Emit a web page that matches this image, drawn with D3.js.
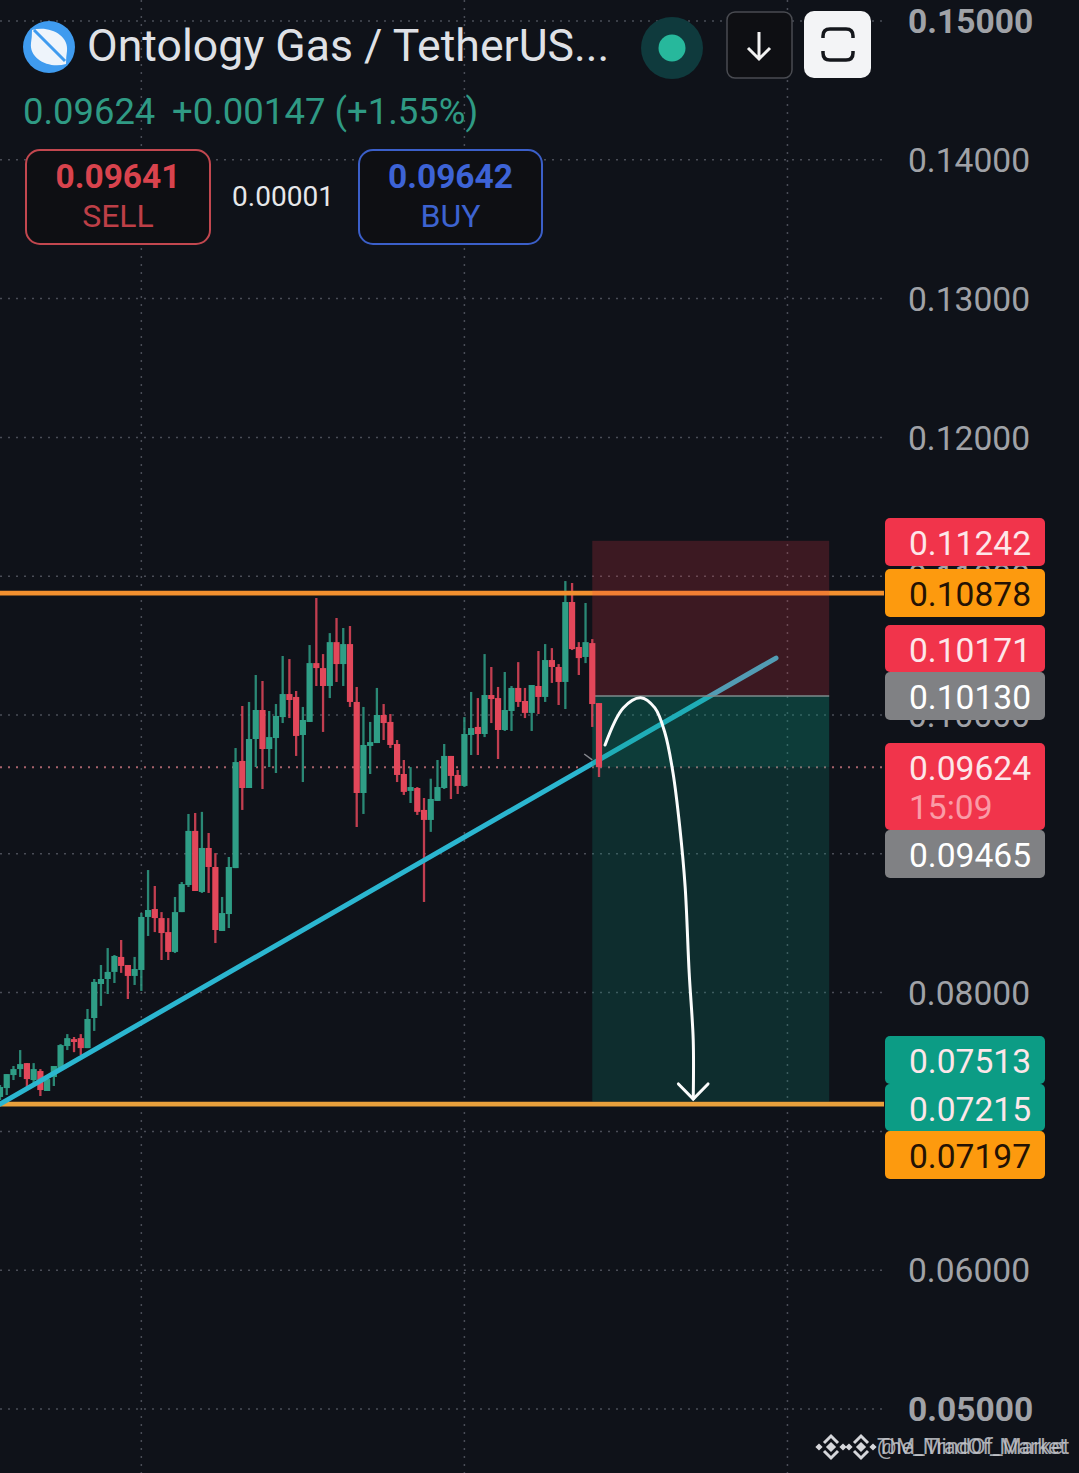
<!DOCTYPE html>
<meta charset="utf-8">
<style>
html, body { margin: 0; background: #0f1219; }
svg { display: block; }
svg text { font-family: Roboto, "Liberation Sans", sans-serif; }
</style>
<body></body>
<script src="https://d3js.org/d3.v7.min.js"></script>
<script>
// candles, oldest first
var opens = [0.07248,0.07312,0.07406,0.07449,0.07492,0.07370,0.07435,0.07291,0.07392,0.07449,
  0.07615,0.07665,0.07672,0.07600,0.07817,0.08062,0.08098,0.08149,0.08257,0.08199,
  0.08120,0.08163,0.08545,0.08602,0.08537,0.08436,0.08293,0.08580,0.08775,0.09165,
  0.08725,0.09042,0.08905,0.08444,0.08566,0.08897,0.09669,0.09474,0.09827,0.10036,
  0.09755,0.09834,0.09985,0.10151,0.10130,0.09856,0.09950,0.10374,0.10338,0.10209,
  0.10525,0.10367,0.10511,0.10094,0.09438,0.09777,0.09798,0.10000,0.09950,0.09791,
  0.09575,0.09453,0.09474,0.09316,0.09244,0.09381,0.09474,0.09705,0.09568,0.09489,
  0.09856,0.09914,0.09863,0.10144,0.10122,0.09892,0.10029,0.10195,0.10101,0.10015,
  0.10209,0.10130,0.10396,0.10346,0.10238,0.10814,0.10490,0.10418,0.10518,0.10086];
var highs = [0.07334,0.07413,0.07471,0.07586,0.07492,0.07492,0.07449,0.07406,0.07471,0.07629,
  0.07701,0.07680,0.07701,0.07882,0.08098,0.08199,0.08321,0.08271,0.08379,0.08199,
  0.08257,0.08573,0.08883,0.08768,0.08580,0.08537,0.08689,0.08797,0.09287,0.09294,
  0.09302,0.09150,0.09005,0.08689,0.08977,0.09762,0.10065,0.10094,0.10288,0.10245,
  0.10029,0.10079,0.10425,0.10403,0.10173,0.10058,0.10504,0.10843,0.10439,0.10590,
  0.10699,0.10627,0.10641,0.10202,0.10058,0.09950,0.10195,0.10079,0.10007,0.09820,
  0.09676,0.09625,0.09481,0.09402,0.09541,0.09676,0.09791,0.09705,0.09604,0.09985,
  0.10166,0.10122,0.10439,0.10346,0.10202,0.10310,0.10209,0.10381,0.10195,0.10216,
  0.10461,0.10511,0.10482,0.10367,0.10965,0.10951,0.10525,0.10807,0.10547,0.10086];
var lows = [0.07226,0.07262,0.07370,0.07392,0.07320,0.07348,0.07255,0.07291,0.07327,0.07449,
  0.07586,0.07571,0.07550,0.07600,0.07724,0.07904,0.07990,0.08069,0.08142,0.07954,
  0.08055,0.08012,0.08408,0.08436,0.08235,0.08235,0.08285,0.08580,0.08761,0.08732,
  0.08718,0.08718,0.08357,0.08444,0.08465,0.08897,0.09316,0.09474,0.09625,0.09467,
  0.09625,0.09582,0.09942,0.09978,0.09705,0.09517,0.09950,0.10209,0.09878,0.10122,
  0.10238,0.10209,0.10058,0.09193,0.09287,0.09575,0.09798,0.09820,0.09762,0.09517,
  0.09424,0.09366,0.09280,0.08653,0.09158,0.09381,0.09467,0.09395,0.09431,0.09481,
  0.09712,0.09712,0.09841,0.09942,0.09683,0.09885,0.09885,0.10058,0.09978,0.09885,
  0.10007,0.10094,0.10231,0.10072,0.10043,0.10468,0.10288,0.10374,0.09914,0.09553];
var closes = [0.07320,0.07413,0.07449,0.07485,0.07377,0.07449,0.07298,0.07377,0.07471,0.07622,
  0.07672,0.07644,0.07600,0.07810,0.08077,0.08098,0.08149,0.08264,0.08192,0.08120,
  0.08170,0.08545,0.08595,0.08537,0.08429,0.08293,0.08580,0.08782,0.09165,0.08732,
  0.09042,0.08905,0.08451,0.08573,0.08905,0.09661,0.09474,0.09827,0.10036,0.09755,
  0.09841,0.09993,0.10151,0.10108,0.09849,0.09964,0.10374,0.10338,0.10209,0.10525,
  0.10367,0.10511,0.10094,0.09438,0.09784,0.09805,0.10000,0.09942,0.09784,0.09568,
  0.09446,0.09481,0.09302,0.09244,0.09395,0.09481,0.09705,0.09561,0.09489,0.09863,
  0.09906,0.09863,0.10144,0.10115,0.09892,0.10036,0.10195,0.10094,0.10015,0.10216,
  0.10130,0.10396,0.10346,0.10238,0.10814,0.10475,0.10410,0.10525,0.10079,0.09624];

var priceTicks = [0.15,0.14,0.13,0.12,0.11,0.10,0.09,0.08,0.07,0.06,0.05];
var gridCandles = [21,69,117];

var upperLevel = 0.10878, lowerLevel = 0.07197, lastPrice = 0.09624;
var stopPrice = 0.11255, entryPrice = 0.10137, targetPrice = 0.07215;
var positionFrom = 88, positionTo = 123.2;

var trendIdx = [0,115.3], trendPrice = [0.07197,0.10410];
var arcIdx = [89.9,92.6,95.2,97.3,98.8,100,101,101.8,102.4,103,103];
var arcPrice = [0.09784,0.10051,0.10125,0.10051,0.09870,0.09582,0.09193,0.08761,0.08141,0.07658,0.07233];
var headIdx = [100.8,103,105.2], headPrice = [0.07342,0.07233,0.07342];
var tickMarkIdx = [86.8,88], tickMarkPrice = [0.09719,0.09676];

var tagTexts = ["0.11242","0.10878","0.10171","0.10130","0.09624","0.09465","0.07513","0.07215","0.07197"];
var tagColors = ["#f1344b","#fd9a0e","#f1344b","#808184","#f1344b","#808184","#0c9c85","#0c9c85","#fd9a0e"];
var tagTops = [518,569,625,672,743,830,1036,1084,1131];
var tagHeights = [48,48,47,48,87,48,48,47,48];

var W = 1079, H = 1473;
var x = d3.scaleLinear().domain([0,89]).range([0,599]);
var y = d3.scaleLinear().domain([0.05,0.15]).range([1409,21]);
var fmt = d3.format(".5f");

var svg = d3.select("body").append("svg").attr("width",W).attr("height",H);

// grid
svg.append("g").selectAll("line").data(priceTicks).join("line")
  .attr("x1",0).attr("x2",884)
  .attr("y1",d=>y(d)).attr("y2",d=>y(d))
  .attr("stroke","#4a4d57").attr("stroke-width",1.5).attr("stroke-dasharray","2 6");
svg.append("g").selectAll("line").data(gridCandles).join("line")
  .attr("x1",d=>x(d)).attr("x2",d=>x(d))
  .attr("y1",0).attr("y2",H)
  .attr("stroke","#4a4d57").attr("stroke-width",1.5).attr("stroke-dasharray","2 6");

// price axis
var axis = svg.append("g").attr("transform","translate(908,1)")
  .call(d3.axisRight(y).tickValues(priceTicks).tickFormat(fmt).tickSize(0).tickPadding(0));
axis.select(".domain").remove();
axis.selectAll("text")
  .attr("fill","#a0a2a7")
  .style("font-size","33.6px")
  .style("font-family","Roboto")
  .style("font-weight",d=>(d==0.15||d==0.05)?"700":"400");

// last price line
svg.append("line").attr("x1",0).attr("x2",884)
  .attr("y1",y(lastPrice)).attr("y2",y(lastPrice))
  .attr("stroke","#a8636c").attr("stroke-width",2).attr("stroke-dasharray","2 6");

// candles
function drawCandles(parent, idx) {
  var g = parent.append("g").selectAll("g").data(idx).join("g");
  var col = i => closes[i] >= opens[i] ? "#2f9e86" : "#e2475a";
  g.append("line")
    .attr("x1",i=>x(i)).attr("x2",i=>x(i))
    .attr("y1",i=>y(highs[i])).attr("y2",i=>y(lows[i]))
    .attr("stroke",col).attr("stroke-width",2.3).attr("stroke-opacity",0.85);
  g.append("rect")
    .attr("x",i=>x(i)-3.1).attr("width",6.2)
    .attr("y",i=>y(Math.max(opens[i],closes[i])))
    .attr("height",i=>Math.max(2.5,Math.abs(y(opens[i])-y(closes[i]))))
    .attr("fill",col);
}
drawCandles(svg, d3.range(0,88));

// levels + trend
svg.selectAll(".level").data([upperLevel,lowerLevel]).join("line").attr("class","level")
  .attr("x1",0).attr("x2",884)
  .attr("y1",d=>y(d)).attr("y2",d=>y(d))
  .attr("stroke",(d,i)=>i?"#e8a03c":"#f2902f").attr("stroke-width",4.8);

var lineIdx = d3.line().x(d=>x(d[0])).y(d=>y(d[1]));
svg.append("path").attr("d",lineIdx(d3.zip(trendIdx,trendPrice)))
  .attr("fill","none").attr("stroke","#2bb6d0").attr("stroke-width",5).attr("stroke-linecap","round");

// short position box
var bx = x(positionFrom), bw = x(positionTo)-bx;
svg.append("rect").attr("x",bx).attr("width",bw)
  .attr("y",y(stopPrice)).attr("height",y(entryPrice)-y(stopPrice))
  .attr("fill","#f23645").attr("fill-opacity",0.2);
svg.append("rect").attr("x",bx).attr("width",bw)
  .attr("y",y(entryPrice)).attr("height",y(targetPrice)-y(entryPrice))
  .attr("fill","#089981").attr("fill-opacity",0.2);
svg.append("rect").attr("x",bx).attr("width",bw)
  .attr("y",y(entryPrice)).attr("height",y(lastPrice)-y(entryPrice))
  .attr("fill","#089981").attr("fill-opacity",0.14);
svg.append("line").attr("x1",bx).attr("x2",bx+bw)
  .attr("y1",y(entryPrice)).attr("y2",y(entryPrice))
  .attr("stroke","#7d8b8c").attr("stroke-width",1.5);

svg.append("path").attr("d",lineIdx(d3.zip(tickMarkIdx,tickMarkPrice)))
  .attr("fill","none").attr("stroke","#85878d").attr("stroke-width",1.5);

drawCandles(svg, [88,89]);

// hand drawn arrow
var curve = d3.line().x(d=>x(d[0])).y(d=>y(d[1])).curve(d3.curveCatmullRom);
svg.append("path").attr("d",curve(d3.zip(arcIdx,arcPrice)))
  .attr("fill","none").attr("stroke","#fbfcfc").attr("stroke-width",3).attr("stroke-linecap","round");
svg.append("path").attr("d",lineIdx(d3.zip(headIdx,headPrice)))
  .attr("fill","none").attr("stroke","#fbfcfc").attr("stroke-width",3).attr("stroke-linecap","round");

// price tags
var tags = svg.append("g").selectAll("g").data(tagTexts).join("g");
tags.append("rect").attr("x",885).attr("width",160)
  .attr("y",(d,i)=>tagTops[i]).attr("height",(d,i)=>tagHeights[i])
  .attr("rx",5).attr("fill",(d,i)=>tagColors[i]);
tags.append("text").attr("x",909)
  .attr("y",(d,i)=>tagTops[i]+37)
  .attr("font-size",33.6)
  .attr("fill",(d,i)=>tagColors[i]=="#fd9a0e"?"#241204":(tagColors[i]=="#808184"?"#ffffff":"#fde6e9"))
  .text(d=>d);
svg.append("text").attr("x",909).attr("y",819).attr("font-size",33.6).attr("fill","#fa9ba6").text("15:09");

// header
var logo = svg.append("g").attr("transform","translate(49,47)");
logo.append("circle").attr("r",26).attr("fill","#3f9bef");
logo.append("path").attr("d","M-17,-17 C0,-22 20,-12 18,4 Q17,10 17,17 C0,22 -20,12 -18,-4 Q-17,-10 -17,-17Z").attr("fill","#eef4fb");
logo.append("line").attr("x1",-15).attr("y1",-17).attr("x2",16).attr("y2",14).attr("stroke","#3f9bef").attr("stroke-width",3);

svg.append("text").attr("x",87).attr("y",61).attr("font-size",44.6).attr("fill","#dfe1e6").text("Ontology Gas / TetherUS...");
svg.append("text").attr("x",23).attr("y",124).attr("font-size",36.4).attr("fill","#2f9a84").text("0.09624");
svg.append("text").attr("x",172).attr("y",124).attr("font-size",36.5).attr("fill","#2f9a84").text("+0.00147 (+1.55%)");

// sell / buy
var btn = [["0.09641","SELL",26,184,"#c2474f","#d8434d","#bd3f47"],["0.09642","BUY",359,183,"#3b5fc9","#3d63d6","#3d63d0"]];
var btns = svg.append("g").selectAll("g").data(btn).join("g");
btns.append("rect").attr("x",d=>d[2]).attr("y",150).attr("width",d=>d[3]).attr("height",94).attr("rx",14)
  .attr("fill","#0e0f13").attr("stroke",d=>d[4]).attr("stroke-width",2);
btns.append("text").attr("x",d=>d[2]+d[3]/2).attr("y",188).attr("text-anchor","middle")
  .attr("font-size",33.5).attr("font-weight",700).attr("fill",d=>d[5]).text(d=>d[0]);
btns.append("text").attr("x",d=>d[2]+d[3]/2).attr("y",227).attr("text-anchor","middle")
  .attr("font-size",32).attr("fill",d=>d[6]).text(d=>d[1]);
svg.append("text").attr("x",283).attr("y",206).attr("text-anchor","middle").attr("font-size",28).attr("fill","#e6e7ea").text("0.00001");

// top buttons
svg.append("circle").attr("cx",672).attr("cy",48).attr("r",31).attr("fill","#0f3a3d");
svg.append("circle").attr("cx",672).attr("cy",48).attr("r",13.5).attr("fill","#27b89c");
svg.append("rect").attr("x",727).attr("y",12).attr("width",65).attr("height",66).attr("rx",8)
  .attr("fill","#0e0f13").attr("stroke","#494b51").attr("stroke-width",1.5);
svg.append("path").attr("d","M759,32V59M748,48L759,59L770,48").attr("fill","none").attr("stroke","#f2f2f2").attr("stroke-width",3);
svg.append("rect").attr("x",804).attr("y",11).attr("width",67).attr("height",67).attr("rx",10).attr("fill","#f3f4f6");
svg.append("path").attr("d","M823,38V36Q823,29 830,29H846Q853,29 853,36V38M823,51V53Q823,60 830,60H846Q853,60 853,53V51")
  .attr("fill","none").attr("stroke","#15171c").attr("stroke-width",3.5);

// watermark
[831,861].forEach(function(cx) {
  var m = svg.append("g").attr("transform","translate("+cx+",1447)").attr("fill","none").attr("stroke","#d5d6da").attr("stroke-width",3);
  m.append("path").attr("d","M-7,-4L0,-11L7,-4M-7,4L0,11L7,4");
  m.append("path").attr("d","M0,-3L3,0L0,3L-3,0Z").attr("fill","#d5d6da");
  m.append("path").attr("d","M-12,-1.5L-10.5,0L-12,1.5L-13.5,0ZM12,-1.5L13.5,0L12,1.5L10.5,0Z").attr("fill","#d5d6da");
});
svg.append("text").attr("x",877).attr("y",1454).attr("font-size",21.5).attr("fill","#c4c6cb").attr("fill-opacity",0.85).text("@M_TradOf_Market");
svg.append("text").attr("x",877).attr("y",1454).attr("font-size",21.5).attr("fill","#c4c6cb").attr("fill-opacity",0.85).text("The_MindOf_Market");
</script>
